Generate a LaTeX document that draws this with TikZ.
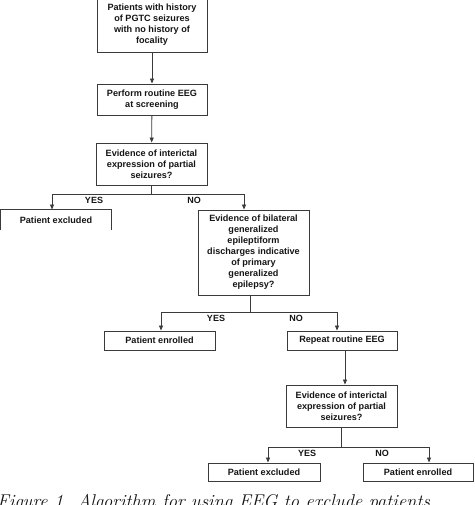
\documentclass[tikz,border=0pt]{standalone}
\usepackage{fontspec}
\setmainfont{Latin Modern Roman}
\newfontfamily\boxfont{Liberation Sans}
\usetikzlibrary{arrows.meta}
\definecolor{ln}{HTML}{3A3A3A}
\definecolor{tx}{HTML}{151515}
\tikzset{
  bx/.style={draw=ln, line width=0.9pt, align=center, inner sep=1pt,
    font=\boxfont\bfseries\fontsize{9.1}{11}\selectfont, text=tx},
  lbl/.style={font=\boxfont\bfseries\fontsize{9}{10}\selectfont, text=tx, inner sep=0pt},
  ln/.style={draw=ln, line width=0.8pt},
  arr/.style={ln, -{Triangle[length=5pt,width=4pt]}}
}
\begin{document}
\begin{tikzpicture}[x=1pt,y=-1pt]
\useasboundingbox (0,0) rectangle (474,505);
\clip (0,0) rectangle (474,505);
\fill[white] (0,0) rectangle (474,505);
% boxes
\node[bx, minimum width=110pt, minimum height=55pt] (n1) at (152,24.5)
  {Patients with history\\of PGTC seizures\\with no history of\\focality};
\node[bx, minimum width=110pt, minimum height=31pt] (n2) at (152,99.5)
  {Perform routine EEG\\at screening};
\node[bx, minimum width=111pt, minimum height=42pt] (n3) at (151.5,164)
  {Evidence of interictal\\expression of partial\\seizures?};
\node[bx, draw=none, minimum width=110pt, minimum height=20pt] (n4) at (56,220)
  {Patient excluded};
\draw[ln, line width=0.9pt] (n4.south west) -- (n4.north west) -- (n4.north east) -- (n4.south east);
\node[bx, minimum width=111pt, minimum height=85pt] (n5) at (253.5,252.5)
  {Evidence of bilateral\\generalized\\epileptiform\\discharges indicative\\of primary\\generalized\\epilepsy?};
\node[bx, minimum width=111pt, minimum height=19pt] (n6) at (159.5,340.5) {Patient enrolled};
\node[bx, minimum width=110pt, minimum height=19pt] (n7) at (342,340.5) {Repeat routine EEG};
\node[bx, minimum width=111pt, minimum height=42pt] (n8) at (341.5,406)
  {Evidence of interictal\\expression of partial\\seizures?};
\node[bx, minimum width=112pt, minimum height=18pt] (n9) at (264,472) {Patient excluded};
\node[bx, minimum width=110pt, minimum height=18pt] (n10) at (418,472) {Patient enrolled};
% connectors
\draw[arr] (n1) -- (n2);
\draw[arr] (n2) -- (n3);
\coordinate (j1) at (151.5,194);
\draw[ln] (n3.south) -- (j1);
\draw[arr] (j1) -| ([xshift=-4pt]n4.north);
\draw[arr] (j1) -| ([xshift=-9.5pt]n5.north);
\node[lbl] (y1) at (94,200) {YES};
\node[lbl] (o1) at (194,200) {NO};
\coordinate (j2) at (250,312);
\draw[ln] ([xshift=-3.5pt]n5.south) -- (j2);
\draw[arr] (j2) -| ([xshift=1.5pt]n6.north);
\draw[arr] (j2) -| ([xshift=-5pt]n7.north);
\node[lbl] (y2) at (216,318) {YES};
\node[lbl] (o2) at (296,318) {NO};
\draw[arr] ([xshift=3pt]n7.south) -- ([xshift=3.5pt]n8.north);
\coordinate (j3) at (341.5,447);
\draw[ln] (n8.south) -- (j3);
\draw[arr] (j3) -| ([xshift=4pt]n9.north);
\draw[arr] (j3) -| ([xshift=11pt]n10.north);
\node[lbl] (y3) at (307,453) {YES};
\node[lbl] (o3) at (382,453) {NO};
% caption
\node[anchor=base west, inner sep=0pt, font=\itshape\fontsize{18.5}{20}\selectfont, text=tx] (cap) at (-3,507)
  {Figure 1. Algorithm for using EEG to exclude patients};
\end{tikzpicture}
\end{document}
